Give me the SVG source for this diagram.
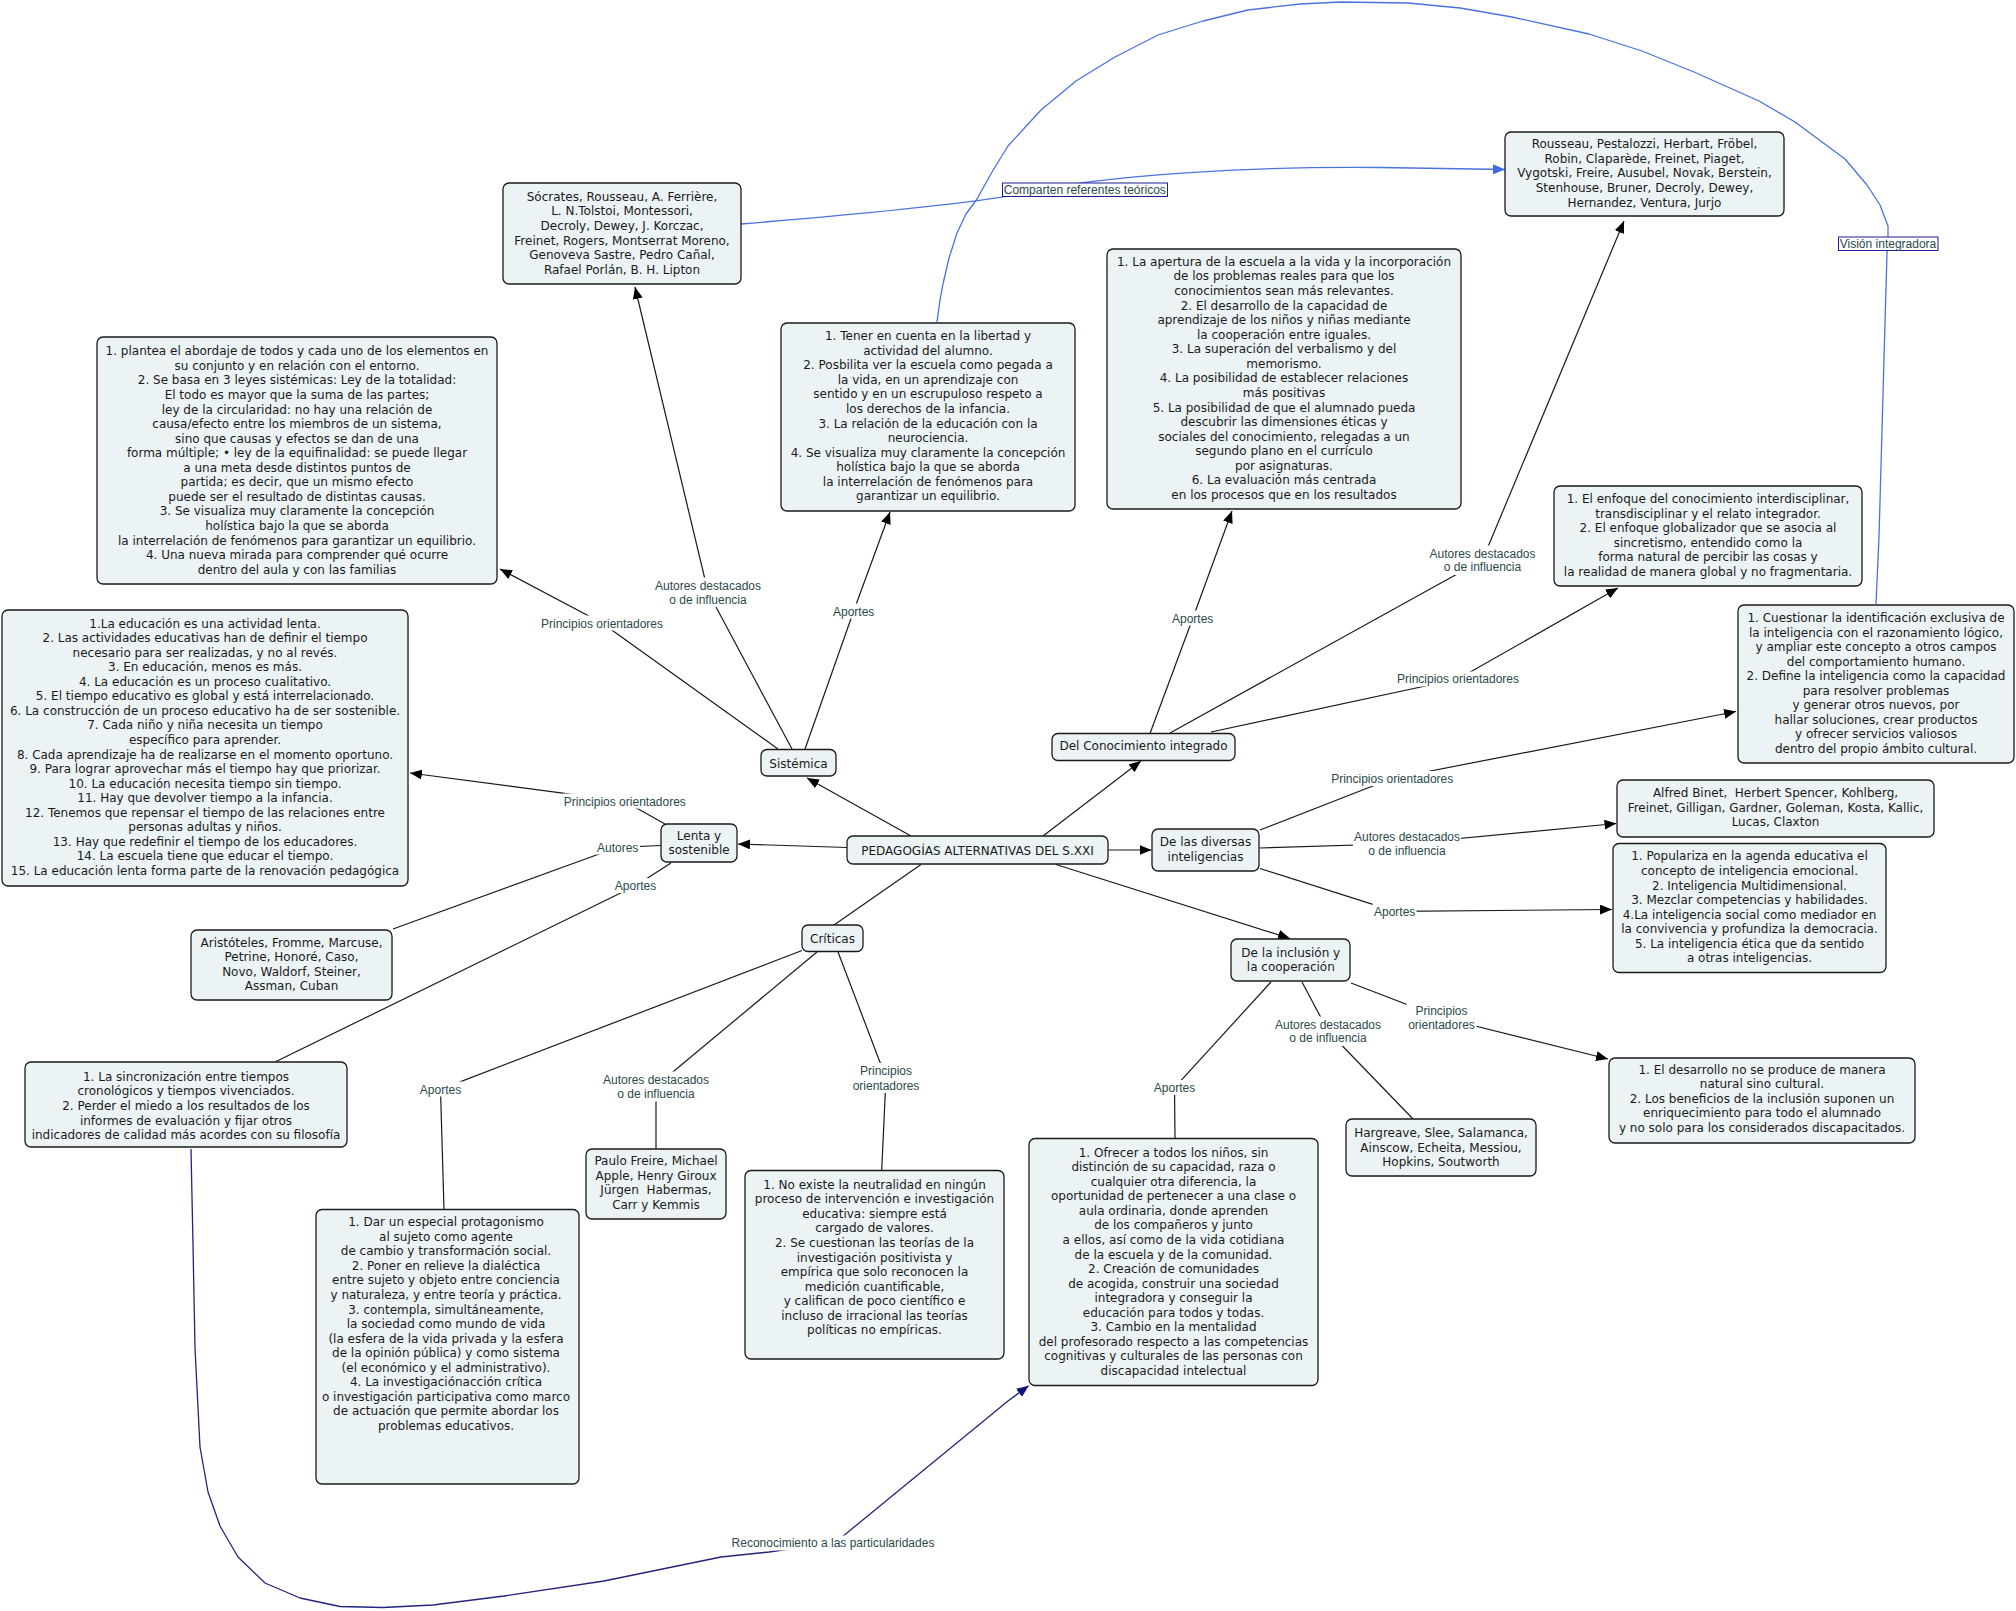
<svg xmlns="http://www.w3.org/2000/svg" width="2016" height="1611" viewBox="0 0 2016 1611">
<style>
.node rect{fill:#ecf3f5;stroke:#1a1a1a;stroke-width:1.3}
.node text{font-family:"DejaVu Sans",Verdana,sans-serif;font-size:12px;fill:#1a1a1a;text-anchor:middle}
.ln{stroke:#1a1a1a;stroke-width:1.2;fill:none}
.lbl{font-family:"Liberation Sans",Arial,sans-serif;font-size:12px;fill:#2b4a4a;text-anchor:middle}
.bg{fill:#fff}
.bbox{fill:#fff;stroke:#1c1c96;stroke-width:1}
.blue{stroke:#4a72e0;stroke-width:1.3;fill:none;stroke-linejoin:round}
.navy{stroke:#23237e;stroke-width:1.3;fill:none;stroke-linejoin:round}
</style>
<defs>
<marker id="arr" viewBox="0 0 12 10" refX="12" refY="5" markerWidth="12" markerHeight="10" markerUnits="userSpaceOnUse" orient="auto"><path d="M0,0 L12,5 L0,10 z" fill="#000"/></marker>
<marker id="arrb" viewBox="0 0 12 10" refX="12" refY="5" markerWidth="12" markerHeight="10" markerUnits="userSpaceOnUse" orient="auto"><path d="M0,0 L12,5 L0,10 z" fill="#3f6ae6"/></marker>
<marker id="arrn" viewBox="0 0 12 10" refX="12" refY="5" markerWidth="12" markerHeight="10" markerUnits="userSpaceOnUse" orient="auto"><path d="M0,0 L12,5 L0,10 z" fill="#10107a"/></marker>
</defs>
<rect width="2016" height="1611" fill="#fff"/>
<g id="connectors">
<g id="lines">
<line class="ln" x1="778" y1="749" x2="602" y2="623"/>
<line class="ln" x1="602" y1="623" x2="500" y2="569" marker-end="url(#arr)"/>
<line class="ln" x1="792" y1="749" x2="708" y2="592"/>
<line class="ln" x1="708" y1="592" x2="635" y2="287" marker-end="url(#arr)"/>
<line class="ln" x1="805" y1="749" x2="853.7" y2="611"/>
<line class="ln" x1="853.7" y1="611" x2="890" y2="512" marker-end="url(#arr)"/>
<line class="ln" x1="911" y1="836" x2="807" y2="778" marker-end="url(#arr)"/>
<line class="ln" x1="847" y1="847.5" x2="738" y2="844" marker-end="url(#arr)"/>
<line class="ln" x1="921" y1="864.5" x2="834" y2="925"/>
<line class="ln" x1="1043" y1="836" x2="1141" y2="761" marker-end="url(#arr)"/>
<line class="ln" x1="1108" y1="850" x2="1151.5" y2="850" marker-end="url(#arr)"/>
<line class="ln" x1="1056" y1="864.5" x2="1290" y2="938.5" marker-end="url(#arr)"/>
<line class="ln" x1="665" y1="824" x2="625" y2="801.4"/>
<line class="ln" x1="625" y1="801.4" x2="410" y2="773" marker-end="url(#arr)"/>
<line class="ln" x1="661" y1="845.5" x2="617.7" y2="847.3"/>
<line class="ln" x1="617.7" y1="847.3" x2="393" y2="929"/>
<line class="ln" x1="671" y1="863" x2="635.5" y2="885.7"/>
<line class="ln" x1="635.5" y1="885.7" x2="275" y2="1062"/>
<line class="ln" x1="802" y1="950.5" x2="440.5" y2="1089.4"/>
<line class="ln" x1="440.5" y1="1089.4" x2="444" y2="1209.5"/>
<line class="ln" x1="817" y1="952" x2="656" y2="1086"/>
<line class="ln" x1="656" y1="1086" x2="656" y2="1149"/>
<line class="ln" x1="838" y1="952" x2="886" y2="1078"/>
<line class="ln" x1="886" y1="1078" x2="881.7" y2="1170.5"/>
<line class="ln" x1="1150" y1="733.5" x2="1192.7" y2="618.5"/>
<line class="ln" x1="1192.7" y1="618.5" x2="1232" y2="511" marker-end="url(#arr)"/>
<line class="ln" x1="1170" y1="733" x2="1482.5" y2="560"/>
<line class="ln" x1="1482.5" y1="560" x2="1624" y2="221" marker-end="url(#arr)"/>
<line class="ln" x1="1211" y1="732" x2="1458" y2="679"/>
<line class="ln" x1="1458" y1="679" x2="1618" y2="588" marker-end="url(#arr)"/>
<line class="ln" x1="1260" y1="830" x2="1392" y2="778.5"/>
<line class="ln" x1="1392" y1="778.5" x2="1736" y2="711.5" marker-end="url(#arr)"/>
<line class="ln" x1="1259.5" y1="848" x2="1407" y2="843.5"/>
<line class="ln" x1="1407" y1="843.5" x2="1616.5" y2="823.5" marker-end="url(#arr)"/>
<line class="ln" x1="1260" y1="868.5" x2="1394.7" y2="911.4"/>
<line class="ln" x1="1394.7" y1="911.4" x2="1612" y2="909.5" marker-end="url(#arr)"/>
<line class="ln" x1="1351" y1="983" x2="1441" y2="1017.5"/>
<line class="ln" x1="1441" y1="1017.5" x2="1608" y2="1059" marker-end="url(#arr)"/>
<line class="ln" x1="1302" y1="982" x2="1328" y2="1031"/>
<line class="ln" x1="1328" y1="1031" x2="1413" y2="1119"/>
<line class="ln" x1="1271" y1="982" x2="1174.5" y2="1087.7"/>
<line class="ln" x1="1174.5" y1="1087.7" x2="1175" y2="1138.5"/>
<path class="blue" d="M741,224 C850,215 980,203 1030,192 C1100,176 1250,166 1380,167.5 L1505,169.5" marker-end="url(#arrb)"/>
<path class="blue" stroke-width="1.1" d="M937,322 L940,300 L943,284 L949,258 L957,233 L966,214 L977,199 L992,172 L1008,146 L1041,110 L1076,81 L1115,57 L1158,35 L1203,21 L1248,10 L1300,4 L1341,2 L1408,3 L1460,8 L1512,17 L1589,34 L1642,51 L1694,72 L1759,101 L1795,122 L1845,159 L1867,185 L1880,205 L1888,226 L1888,244 L1887,252 L1879,537 L1876,604"/>
<path class="navy" d="M191,1149 L193,1245 L195,1348 L200,1447 L208,1492 L220,1526 L238,1557 L265,1583 L300,1598 L340,1606.5 L383,1607.5 L433,1605 L504,1596 L604,1581 L721,1557 L769,1552 L833,1543 L842,1537 L1008,1401 L1028.7,1385.7" marker-end="url(#arrn)"/>
</g>
<g id="link-labels">
<rect class="bg" x="540" y="615.5" width="124" height="15"/><text class="lbl" x="602" y="627.5">Principios orientadores</text>
<rect class="bg" x="654" y="577.5" width="108" height="29.5"/><text class="lbl" x="708" y="589.5">Autores destacados<tspan x="708" dy="14">o de influencia</tspan></text>
<rect class="bg" x="832" y="603.5" width="44" height="15"/><text class="lbl" x="853.7" y="615.5">Aportes</text>
<rect class="bg" x="563" y="793.5" width="124" height="15"/><text class="lbl" x="624.8" y="805.6">Principios orientadores</text>
<rect class="bg" x="596" y="839.5" width="44" height="15"/><text class="lbl" x="617.7" y="851.5">Autores</text>
<rect class="bg" x="613.5" y="878" width="44" height="15"/><text class="lbl" x="635.5" y="889.9">Aportes</text>
<rect class="bg" x="418.5" y="1081.5" width="44" height="15"/><text class="lbl" x="440.5" y="1093.6">Aportes</text>
<rect class="bg" x="602" y="1071.5" width="108" height="30"/><text class="lbl" x="656" y="1083.7">Autores destacados<tspan x="656" dy="14">o de influencia</tspan></text>
<rect class="bg" x="851" y="1063" width="70" height="30"/><text class="lbl" x="886" y="1075.2">Principios<tspan x="886" dy="14.3">orientadores</tspan></text>
<rect class="bg" x="1170.5" y="610.5" width="44" height="15"/><text class="lbl" x="1192.7" y="622.7">Aportes</text>
<rect class="bg" x="1428.5" y="545.5" width="108" height="29.5"/><text class="lbl" x="1482.5" y="557.6">Autores destacados<tspan x="1482.5" dy="13.7">o de influencia</tspan></text>
<rect class="bg" x="1396" y="671.5" width="124" height="15"/><text class="lbl" x="1458" y="683.3">Principios orientadores</text>
<rect class="bg" x="1330" y="771" width="124" height="15"/><text class="lbl" x="1392.2" y="782.7">Principios orientadores</text>
<rect class="bg" x="1353" y="829" width="108" height="29.5"/><text class="lbl" x="1407" y="840.9">Autores destacados<tspan x="1407" dy="13.7">o de influencia</tspan></text>
<rect class="bg" x="1372.5" y="903.5" width="44" height="15"/><text class="lbl" x="1394.7" y="915.6">Aportes</text>
<rect class="bg" x="1406.5" y="1003" width="70" height="29.5"/><text class="lbl" x="1441.5" y="1014.9">Principios<tspan x="1441.5" dy="13.7">orientadores</tspan></text>
<rect class="bg" x="1274" y="1016.5" width="108" height="29.5"/><text class="lbl" x="1328" y="1028.6">Autores destacados<tspan x="1328" dy="13.7">o de influencia</tspan></text>
<rect class="bg" x="1152.5" y="1080" width="44" height="15"/><text class="lbl" x="1174.5" y="1091.9">Aportes</text>
<rect class="bbox" x="1002.5" y="183" width="165" height="13.5"/><text class="lbl" x="1084.8" y="194">Comparten referentes teóricos</text>
<rect class="bbox" x="1838.5" y="237" width="99.5" height="13.5"/><text class="lbl" x="1888" y="248">Visión integradora</text>
<rect class="bg" x="730" y="1535.5" width="206" height="15"/><text class="lbl" x="833" y="1547.4">Reconocimiento a las particularidades</text>
</g>
</g>
<g id="n-main" class="node"><rect x="847" y="836" width="261" height="28" rx="6"/><text x="977.5" y="855.2">PEDAGOGÍAS ALTERNATIVAS DEL S.XXI</text></g>
<g id="n-sistemica" class="node"><rect x="761" y="749.5" width="75" height="26.5" rx="6"/><text x="798.5" y="767.6">Sistémica</text></g>
<g id="n-lenta" class="node"><rect x="661" y="824" width="76" height="38" rx="6"/><text x="699" y="839.9">Lenta y<tspan x="699" dy="14">sostenible</tspan></text></g>
<g id="n-criticas" class="node"><rect x="802" y="925" width="61" height="26.5" rx="6"/><text x="832.5" y="942.6">Críticas</text></g>
<g id="n-conocimiento" class="node"><rect x="1052" y="733.5" width="183" height="27" rx="6"/><text x="1143.5" y="750.1">Del Conocimiento integrado</text></g>
<g id="n-inteligencias" class="node"><rect x="1152" y="829" width="107" height="42" rx="6"/><text x="1205.5" y="846">De las diversas<tspan x="1205.5" dy="14.6">inteligencias</tspan></text></g>
<g id="n-inclusion" class="node"><rect x="1231" y="939" width="119" height="42" rx="6"/><text x="1290.8" y="957">De la inclusión y<tspan x="1290.8" dy="14.4">la cooperación</tspan></text></g>
<g id="n-sis-principios" class="node"><rect x="97" y="337" width="400" height="247" rx="6"/><text x="297" y="355.3"><tspan x="297" dy="0">1. plantea el abordaje de todos y cada uno de los elementos en</tspan><tspan x="297" dy="14.56">su conjunto y en relación con el entorno.</tspan><tspan x="297" dy="14.56">2. Se basa en 3 leyes sistémicas: Ley de la totalidad:</tspan><tspan x="297" dy="14.56">El todo es mayor que la suma de las partes;</tspan><tspan x="297" dy="14.56">ley de la circularidad: no hay una relación de</tspan><tspan x="297" dy="14.56">causa/efecto entre los miembros de un sistema,</tspan><tspan x="297" dy="14.56">sino que causas y efectos se dan de una</tspan><tspan x="297" dy="14.56">forma múltiple; • ley de la equifinalidad: se puede llegar</tspan><tspan x="297" dy="14.56">a una meta desde distintos puntos de</tspan><tspan x="297" dy="14.56">partida; es decir, que un mismo efecto</tspan><tspan x="297" dy="14.56">puede ser el resultado de distintas causas.</tspan><tspan x="297" dy="14.56">3. Se visualiza muy claramente la concepción</tspan><tspan x="297" dy="14.56">holística bajo la que se aborda</tspan><tspan x="297" dy="14.56">la interrelación de fenómenos para garantizar un equilibrio.</tspan><tspan x="297" dy="14.56">4. Una nueva mirada para comprender qué ocurre</tspan><tspan x="297" dy="14.56">dentro del aula y con las familias</tspan></text></g>
<g id="n-sis-autores" class="node"><rect x="503" y="183" width="238" height="101" rx="6"/><text x="622" y="200.8"><tspan x="622" dy="0">Sócrates, Rousseau, A. Ferrière,</tspan><tspan x="622" dy="14.58">L. N.Tolstoi, Montessori,</tspan><tspan x="622" dy="14.58">Decroly, Dewey, J. Korczac,</tspan><tspan x="622" dy="14.58">Freinet, Rogers, Montserrat Moreno,</tspan><tspan x="622" dy="14.58">Genoveva Sastre, Pedro Cañal,</tspan><tspan x="622" dy="14.58">Rafael Porlán, B. H. Lipton</tspan></text></g>
<g id="n-sis-aportes" class="node"><rect x="781" y="323" width="294" height="188" rx="6"/><text x="928" y="340.2"><tspan x="928" dy="0">1. Tener en cuenta en la libertad y</tspan><tspan x="928" dy="14.56">actividad del alumno.</tspan><tspan x="928" dy="14.56">2. Posbilita ver la escuela como pegada a</tspan><tspan x="928" dy="14.56">la vida, en un aprendizaje con</tspan><tspan x="928" dy="14.56">sentido y en un escrupuloso respeto a</tspan><tspan x="928" dy="14.56">los derechos de la infancia.</tspan><tspan x="928" dy="14.56">3. La relación de la educación con la</tspan><tspan x="928" dy="14.56">neurociencia.</tspan><tspan x="928" dy="14.56">4. Se visualiza muy claramente la concepción</tspan><tspan x="928" dy="14.56">holística bajo la que se aborda</tspan><tspan x="928" dy="14.56">la interrelación de fenómenos para</tspan><tspan x="928" dy="14.56">garantizar un equilibrio.</tspan></text></g>
<g id="n-con-aportes" class="node"><rect x="1107" y="249" width="354" height="260" rx="6"/><text x="1284" y="265.9"><tspan x="1284" dy="0">1. La apertura de la escuela a la vida y la incorporación</tspan><tspan x="1284" dy="14.56">de los problemas reales para que los</tspan><tspan x="1284" dy="14.56">conocimientos sean más relevantes.</tspan><tspan x="1284" dy="14.56">2. El desarrollo de la capacidad de</tspan><tspan x="1284" dy="14.56">aprendizaje de los niños y niñas mediante</tspan><tspan x="1284" dy="14.56">la cooperación entre iguales.</tspan><tspan x="1284" dy="14.56">3. La superación del verbalismo y del</tspan><tspan x="1284" dy="14.56">memorismo.</tspan><tspan x="1284" dy="14.56">4. La posibilidad de establecer relaciones</tspan><tspan x="1284" dy="14.56">más positivas</tspan><tspan x="1284" dy="14.56">5. La posibilidad de que el alumnado pueda</tspan><tspan x="1284" dy="14.56">descubrir las dimensiones éticas y</tspan><tspan x="1284" dy="14.56">sociales del conocimiento, relegadas a un</tspan><tspan x="1284" dy="14.56">segundo plano en el currículo</tspan><tspan x="1284" dy="14.56">por asignaturas.</tspan><tspan x="1284" dy="14.56">6. La evaluación más centrada</tspan><tspan x="1284" dy="14.56">en los procesos que en los resultados</tspan></text></g>
<g id="n-con-autores" class="node"><rect x="1505" y="132" width="279" height="84" rx="6"/><text x="1644.5" y="148.1"><tspan x="1644.5" dy="0">Rousseau, Pestalozzi, Herbart, Fröbel,</tspan><tspan x="1644.5" dy="14.6">Robin, Claparède, Freinet, Piaget,</tspan><tspan x="1644.5" dy="14.6">Vygotski, Freire, Ausubel, Novak, Berstein,</tspan><tspan x="1644.5" dy="14.6">Stenhouse, Bruner, Decroly, Dewey,</tspan><tspan x="1644.5" dy="14.6">Hernandez, Ventura, Jurjo</tspan></text></g>
<g id="n-con-principios" class="node"><rect x="1554" y="486" width="308" height="100" rx="6"/><text x="1708" y="503.2"><tspan x="1708" dy="0">1. El enfoque del conocimiento interdisciplinar,</tspan><tspan x="1708" dy="14.56">transdisciplinar y el relato integrador.</tspan><tspan x="1708" dy="14.56">2. El enfoque globalizador que se asocia al</tspan><tspan x="1708" dy="14.56">sincretismo, entendido como la</tspan><tspan x="1708" dy="14.56">forma natural de percibir las cosas y</tspan><tspan x="1708" dy="14.56">la realidad de manera global y no fragmentaria.</tspan></text></g>
<g id="n-int-principios" class="node"><rect x="1738" y="605" width="276" height="158" rx="6"/><text x="1876" y="622"><tspan x="1876" dy="0">1. Cuestionar la identificación exclusiva de</tspan><tspan x="1876" dy="14.56">la inteligencia con el razonamiento lógico,</tspan><tspan x="1876" dy="14.56">y ampliar este concepto a otros campos</tspan><tspan x="1876" dy="14.56">del comportamiento humano.</tspan><tspan x="1876" dy="14.56">2. Define la inteligencia como la capacidad</tspan><tspan x="1876" dy="14.56">para resolver problemas</tspan><tspan x="1876" dy="14.56">y generar otros nuevos, por</tspan><tspan x="1876" dy="14.56">hallar soluciones, crear productos</tspan><tspan x="1876" dy="14.56">y ofrecer servicios valiosos</tspan><tspan x="1876" dy="14.56">dentro del propio ámbito cultural.</tspan></text></g>
<g id="n-int-autores" class="node"><rect x="1617" y="780" width="317" height="57" rx="6"/><text x="1775.5" y="797"><tspan x="1775.5" dy="0">Alfred Binet,&#160; Herbert Spencer, Kohlberg,</tspan><tspan x="1775.5" dy="14.6">Freinet, Gilligan, Gardner, Goleman, Kosta, Kallic,</tspan><tspan x="1775.5" dy="14.6">Lucas, Claxton</tspan></text></g>
<g id="n-int-aportes" class="node"><rect x="1613" y="843.5" width="273" height="129" rx="6"/><text x="1749.5" y="860.4"><tspan x="1749.5" dy="0">1. Populariza en la agenda educativa el</tspan><tspan x="1749.5" dy="14.56">concepto de inteligencia emocional.</tspan><tspan x="1749.5" dy="14.56">2. Inteligencia Multidimensional.</tspan><tspan x="1749.5" dy="14.56">3. Mezclar competencias y habilidades.</tspan><tspan x="1749.5" dy="14.56">4.La inteligencia social como mediador en</tspan><tspan x="1749.5" dy="14.56">la convivencia y profundiza la democracia.</tspan><tspan x="1749.5" dy="14.56">5. La inteligencia ética que da sentido</tspan><tspan x="1749.5" dy="14.56">a otras inteligencias.</tspan></text></g>
<g id="n-inc-principios" class="node"><rect x="1609" y="1058" width="306" height="85" rx="6"/><text x="1762" y="1073.7"><tspan x="1762" dy="0">1. El desarrollo no se produce de manera</tspan><tspan x="1762" dy="14.56">natural sino cultural.</tspan><tspan x="1762" dy="14.56">2. Los beneficios de la inclusión suponen un</tspan><tspan x="1762" dy="14.56">enriquecimiento para todo el alumnado</tspan><tspan x="1762" dy="14.56">y no solo para los considerados discapacitados.</tspan></text></g>
<g id="n-inc-autores" class="node"><rect x="1346" y="1119" width="190" height="57" rx="6"/><text x="1441" y="1137.1"><tspan x="1441" dy="0">Hargreave, Slee, Salamanca,</tspan><tspan x="1441" dy="14.56">Ainscow, Echeita, Messiou,</tspan><tspan x="1441" dy="14.56">Hopkins, Soutworth</tspan></text></g>
<g id="n-inc-aportes" class="node"><rect x="1029" y="1138.5" width="289" height="247" rx="6"/><text x="1173.5" y="1156.6"><tspan x="1173.5" dy="0">1. Ofrecer a todos los niños, sin</tspan><tspan x="1173.5" dy="14.56">distinción de su capacidad, raza o</tspan><tspan x="1173.5" dy="14.56">cualquier otra diferencia, la</tspan><tspan x="1173.5" dy="14.56">oportunidad de pertenecer a una clase o</tspan><tspan x="1173.5" dy="14.56">aula ordinaria, donde aprenden</tspan><tspan x="1173.5" dy="14.56">de los compañeros y junto</tspan><tspan x="1173.5" dy="14.56">a ellos, así como de la vida cotidiana</tspan><tspan x="1173.5" dy="14.56">de la escuela y de la comunidad.</tspan><tspan x="1173.5" dy="14.56">2. Creación de comunidades</tspan><tspan x="1173.5" dy="14.56">de acogida, construir una sociedad</tspan><tspan x="1173.5" dy="14.56">integradora y conseguir la</tspan><tspan x="1173.5" dy="14.56">educación para todos y todas.</tspan><tspan x="1173.5" dy="14.56">3. Cambio en la mentalidad</tspan><tspan x="1173.5" dy="14.56">del profesorado respecto a las competencias</tspan><tspan x="1173.5" dy="14.56">cognitivas y culturales de las personas con</tspan><tspan x="1173.5" dy="14.56">discapacidad intelectual</tspan></text></g>
<g id="n-cri-principios" class="node"><rect x="745" y="1170.5" width="259" height="188.5" rx="6"/><text x="874.5" y="1188.8"><tspan x="874.5" dy="0">1. No existe la neutralidad en ningún</tspan><tspan x="874.5" dy="14.56">proceso de intervención e investigación</tspan><tspan x="874.5" dy="14.56">educativa: siempre está</tspan><tspan x="874.5" dy="14.56">cargado de valores.</tspan><tspan x="874.5" dy="14.56">2. Se cuestionan las teorías de la</tspan><tspan x="874.5" dy="14.56">investigación positivista y</tspan><tspan x="874.5" dy="14.56">empírica que solo reconocen la</tspan><tspan x="874.5" dy="14.56">medición cuantificable,</tspan><tspan x="874.5" dy="14.56">y califican de poco científico e</tspan><tspan x="874.5" dy="14.56">incluso de irracional las teorías</tspan><tspan x="874.5" dy="14.56">políticas no empíricas.</tspan></text></g>
<g id="n-cri-autores" class="node"><rect x="586" y="1149" width="140" height="70" rx="6"/><text x="656" y="1165.2"><tspan x="656" dy="0">Paulo Freire, Michael</tspan><tspan x="656" dy="14.5">Apple, Henry Giroux</tspan><tspan x="656" dy="14.5">Jürgen&#160; Habermas,</tspan><tspan x="656" dy="14.5">Carr y Kemmis</tspan></text></g>
<g id="n-cri-aportes" class="node"><rect x="316" y="1209.5" width="263" height="274.5" rx="6"/><text x="446" y="1226.2"><tspan x="446" dy="0">1. Dar un especial protagonismo</tspan><tspan x="446" dy="14.56">al sujeto como agente</tspan><tspan x="446" dy="14.56">de cambio y transformación social.</tspan><tspan x="446" dy="14.56">2. Poner en relieve la dialéctica</tspan><tspan x="446" dy="14.56">entre sujeto y objeto entre conciencia</tspan><tspan x="446" dy="14.56">y naturaleza, y entre teoría y práctica.</tspan><tspan x="446" dy="14.56">3. contempla, simultáneamente,</tspan><tspan x="446" dy="14.56">la sociedad como mundo de vida</tspan><tspan x="446" dy="14.56">(la esfera de la vida privada y la esfera</tspan><tspan x="446" dy="14.56">de la opinión pública) y como sistema</tspan><tspan x="446" dy="14.56">(el económico y el administrativo).</tspan><tspan x="446" dy="14.56">4. La investigaciónacción crítica</tspan><tspan x="446" dy="14.56">o investigación participativa como marco</tspan><tspan x="446" dy="14.56">de actuación que permite abordar los</tspan><tspan x="446" dy="14.56">problemas educativos.</tspan></text></g>
<g id="n-len-aportes" class="node"><rect x="25" y="1062" width="322" height="85" rx="6"/><text x="186" y="1080.9"><tspan x="186" dy="0">1. La sincronización entre tiempos</tspan><tspan x="186" dy="14.56">cronológicos y tiempos vivenciados.</tspan><tspan x="186" dy="14.56">2. Perder el miedo a los resultados de los</tspan><tspan x="186" dy="14.56">informes de evaluación y fijar otros</tspan><tspan x="186" dy="14.56">indicadores de calidad más acordes con su filosofía</tspan></text></g>
<g id="n-len-autores" class="node"><rect x="191" y="930" width="201" height="70" rx="6"/><text x="291.5" y="946.7"><tspan x="291.5" dy="0">Aristóteles, Fromme, Marcuse,</tspan><tspan x="291.5" dy="14.5">Petrine, Honoré, Caso,</tspan><tspan x="291.5" dy="14.5">Novo, Waldorf, Steiner,</tspan><tspan x="291.5" dy="14.5">Assman, Cuban</tspan></text></g>
<g id="n-len-principios" class="node"><rect x="2" y="610" width="406" height="276" rx="6"/><text x="205" y="627.5"><tspan x="205" dy="0">1.La educación es una actividad lenta.</tspan><tspan x="205" dy="14.56">2. Las actividades educativas han de definir el tiempo</tspan><tspan x="205" dy="14.56">necesario para ser realizadas, y no al revés.</tspan><tspan x="205" dy="14.56">3. En educación, menos es más.</tspan><tspan x="205" dy="14.56">4. La educación es un proceso cualitativo.</tspan><tspan x="205" dy="14.56">5. El tiempo educativo es global y está interrelacionado.</tspan><tspan x="205" dy="14.56">6. La construcción de un proceso educativo ha de ser sostenible.</tspan><tspan x="205" dy="14.56">7. Cada niño y niña necesita un tiempo</tspan><tspan x="205" dy="14.56">específico para aprender.</tspan><tspan x="205" dy="14.56">8. Cada aprendizaje ha de realizarse en el momento oportuno.</tspan><tspan x="205" dy="14.56">9. Para lograr aprovechar más el tiempo hay que priorizar.</tspan><tspan x="205" dy="14.56">10. La educación necesita tiempo sin tiempo.</tspan><tspan x="205" dy="14.56">11. Hay que devolver tiempo a la infancia.</tspan><tspan x="205" dy="14.56">12. Tenemos que repensar el tiempo de las relaciones entre</tspan><tspan x="205" dy="14.56">personas adultas y niños.</tspan><tspan x="205" dy="14.56">13. Hay que redefinir el tiempo de los educadores.</tspan><tspan x="205" dy="14.56">14. La escuela tiene que educar el tiempo.</tspan><tspan x="205" dy="14.56">15. La educación lenta forma parte de la renovación pedagógica</tspan></text></g>
</svg>
